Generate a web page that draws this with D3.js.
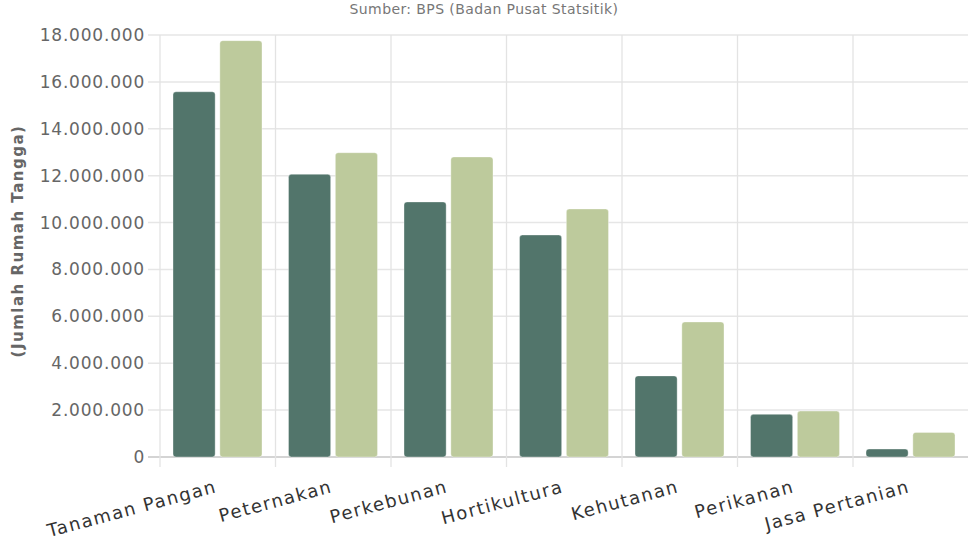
<!DOCTYPE html>
<html>
<head>
<meta charset="utf-8">
<script src="https://cdn.jsdelivr.net/npm/d3@7"></script>
<style>
  html, body { margin: 0; padding: 0; background: #ffffff; }
  svg { display: block; }
</style>
</head>
<body>
<svg id="chart" width="968" height="543"></svg>
<script>
const categories = ["Tanaman Pangan", "Peternakan", "Perkebunan", "Hortikultura", "Kehutanan", "Perikanan", "Jasa Pertanian"];
const seriesNames = ["Seri 1", "Seri 2"];
const seriesA = [15580000, 12060000, 10880000, 9470000, 3460000, 1820000, 340000];
const seriesB = [17760000, 12980000, 12800000, 10580000, 5760000, 1960000, 1050000];
const yTicks = [0, 2000000, 4000000, 6000000, 8000000, 10000000, 12000000, 14000000, 16000000, 18000000];
const subtitle = "Sumber: BPS (Badan Pusat Statsitik)";
const yTitle = "(Jumlah Rumah Tangga)";
const colors = ["#52756b", "#bdca9c"];

const svg = d3.select("#chart");
const pLeft = 160, pRight = 968.5, pTop = 35, pBottom = 457;

const x0 = d3.scaleBand().domain(categories).range([pLeft, pRight]).padding(0);
const x1 = d3.scaleBand().domain(seriesNames).range([13, 102]).paddingInner(0.1).paddingOuter(0);
const y = d3.scaleLinear().domain([0, 18000000]).range([pBottom, pTop]);

const fmt = v => d3.format(",")(v).replace(/,/g, ".");

// Horizontal gridlines
svg.append("g").selectAll("line").data(yTicks).join("line")
  .attr("x1", 148).attr("x2", pRight)
  .attr("y1", d => y(d)).attr("y2", d => y(d))
  .attr("stroke", d => d === 0 ? "#d4d4d4" : "#e6e6e6")
  .attr("stroke-width", d => d === 0 ? 2 : 1.5);

// Vertical gridlines at category boundaries
const bounds = categories.map(c => x0(c));
svg.append("g").selectAll("line").data(bounds).join("line")
  .attr("x1", d => d).attr("x2", d => d)
  .attr("y1", pTop).attr("y2", pBottom + 10)
  .attr("stroke", "#e3e3e3").attr("stroke-width", 1.3);

// Y axis labels
const yAx = svg.append("g").attr("transform", `translate(148,0)`)
  .call(d3.axisLeft(y).tickValues(yTicks).tickFormat(fmt).tickSize(0).tickPadding(3));
yAx.select(".domain").remove();
yAx.selectAll("text")
  .attr("font-family", "DejaVu Sans")
  .attr("font-size", 17)
  .attr("letter-spacing", 0.8)
  .attr("fill", "#666");

// Bars
const groups = svg.append("g").selectAll("g").data(categories).join("g")
  .attr("transform", c => `translate(${x0(c)},0)`);
groups.selectAll("rect")
  .data((c, i) => [seriesA[i], seriesB[i]].map((v, j) => ({ s: seriesNames[j], v, j })))
  .join("rect")
  .attr("x", d => x1(d.s))
  .attr("width", x1.bandwidth())
  .attr("y", d => y(d.v))
  .attr("height", d => pBottom - y(d.v))
  .attr("rx", 3).attr("ry", 3)
  .attr("fill", d => colors[d.j])
  .attr("stroke", "#ffffff").attr("stroke-opacity", 0.35).attr("stroke-width", 1);

// X labels
svg.append("g").selectAll("text").data(categories).join("text")
  .attr("transform", c => `translate(${x0(c) + x0.bandwidth() / 2},492) rotate(-15)`)
  .attr("text-anchor", "end")
  .attr("font-family", "DejaVu Sans")
  .attr("font-size", 18)
  .attr("letter-spacing", 1.5)
  .attr("fill", "#333")
  .text(d => d);

// Y title
svg.append("text")
  .attr("transform", "translate(23,241) rotate(-90)")
  .attr("text-anchor", "middle")
  .attr("font-family", "DejaVu Sans")
  .attr("font-weight", "bold")
  .attr("font-size", 15)
  .attr("letter-spacing", 1.5)
  .attr("fill", "#666")
  .text(yTitle);

// Subtitle
svg.append("text")
  .attr("x", 484).attr("y", 14)
  .attr("text-anchor", "middle")
  .attr("font-family", "DejaVu Sans")
  .attr("font-size", 14)
  .attr("letter-spacing", 0.4)
  .attr("fill", "#777")
  .text(subtitle);
</script>
</body>
</html>
